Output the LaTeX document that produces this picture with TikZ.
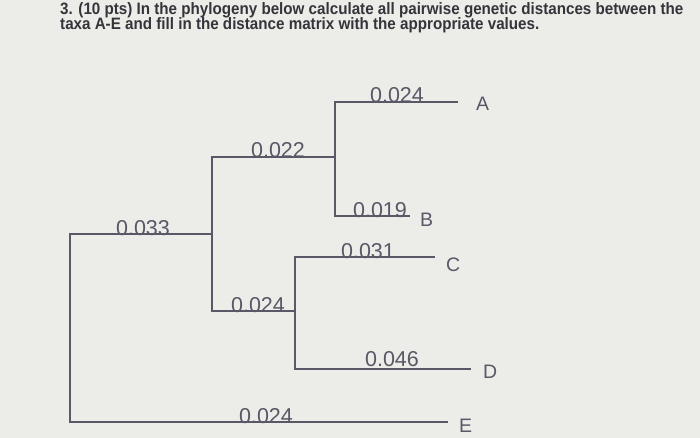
\documentclass[tikz,border=0pt]{standalone}
\usepackage{fontspec}
\setmainfont{Liberation Sans}
\newfontfamily\qfont[FakeStretch=0.92]{Liberation Sans}
\usetikzlibrary{positioning}
\definecolor{paper}{RGB}{236,236,233}
\definecolor{treeline}{RGB}{88,88,102}
\definecolor{ink}{RGB}{52,52,58}

\begin{document}
\begin{tikzpicture}[x=1pt,y=-1pt,
    br/.style={draw=treeline,line width=1.8pt,line join=miter},
    blen/.style={text=treeline,font=\fontsize{21.5}{21.5}\selectfont,anchor=base,inner sep=0pt},
    taxon/.style={text=treeline,font=\fontsize{19.5}{19.5}\selectfont,inner sep=0pt},
    qline/.style={anchor=base west,inner sep=0pt,text=ink,font=\qfont\bfseries\fontsize{16.5}{16.5}\selectfont}]
 \fill[paper] (0,0) rectangle (700,438);
 \useasboundingbox (0,0) rectangle (700,438);
 % question text
 \node[qline] (Q1) at (60,14.5) {3. (10 pts) In the phylogeny below calculate all pairwise genetic distances between the};
 \node[qline] (Q2) at (60,29.5) {taxa A-E and fill in the distance matrix with the appropriate values.};
 % inner nodes and tips
 \coordinate (r)  at (70,328);
 \coordinate (n1) at (212,234);
 \coordinate (n2) at (335,157);
 \coordinate (n3) at (295,311);
 \coordinate (tA) at (458,102);
 \coordinate (tB) at (410,216);
 \coordinate (tC) at (435,257);
 \coordinate (tD) at (471,369);
 \coordinate (tE) at (448,422);
 \draw[br] (tA) -| (n2) |- (tB);
 \draw[br] (tC) -| (n3) |- (tD);
 \draw[br] (n2) -| (n1) |- (n3);
 \draw[br] (n1) -| (r) |- (tE);
 % taxa
 \node[taxon,right=18pt of tA,yshift=-2pt] (A) {A};
 \node[taxon,right=10pt of tB,yshift=-4pt] (B) {B};
 \node[taxon,right=11pt of tC,yshift=-8pt] (C) {C};
 \node[taxon,right=12pt of tD,yshift=-3pt] (D) {D};
 \node[taxon,right=11pt of tE,yshift=-4pt] (E) {E};
 % branch lengths
 \node[blen] (lA)  at (397,103) {0.024};
 \node[blen] (lB)  at (380,217) {0.019};
 \node[blen] (l22) at (278,158) {0.022};
 \node[blen] (l33) at (143,235) {0.033};
 \node[blen] (lC)  at (368,258) {0.031};
 \node[blen] (l24) at (258,312) {0.024};
 \node[blen] (lD)  at (392,366) {0.046};
 \node[blen] (lE)  at (266,423) {0.024};
\end{tikzpicture}
\end{document}
